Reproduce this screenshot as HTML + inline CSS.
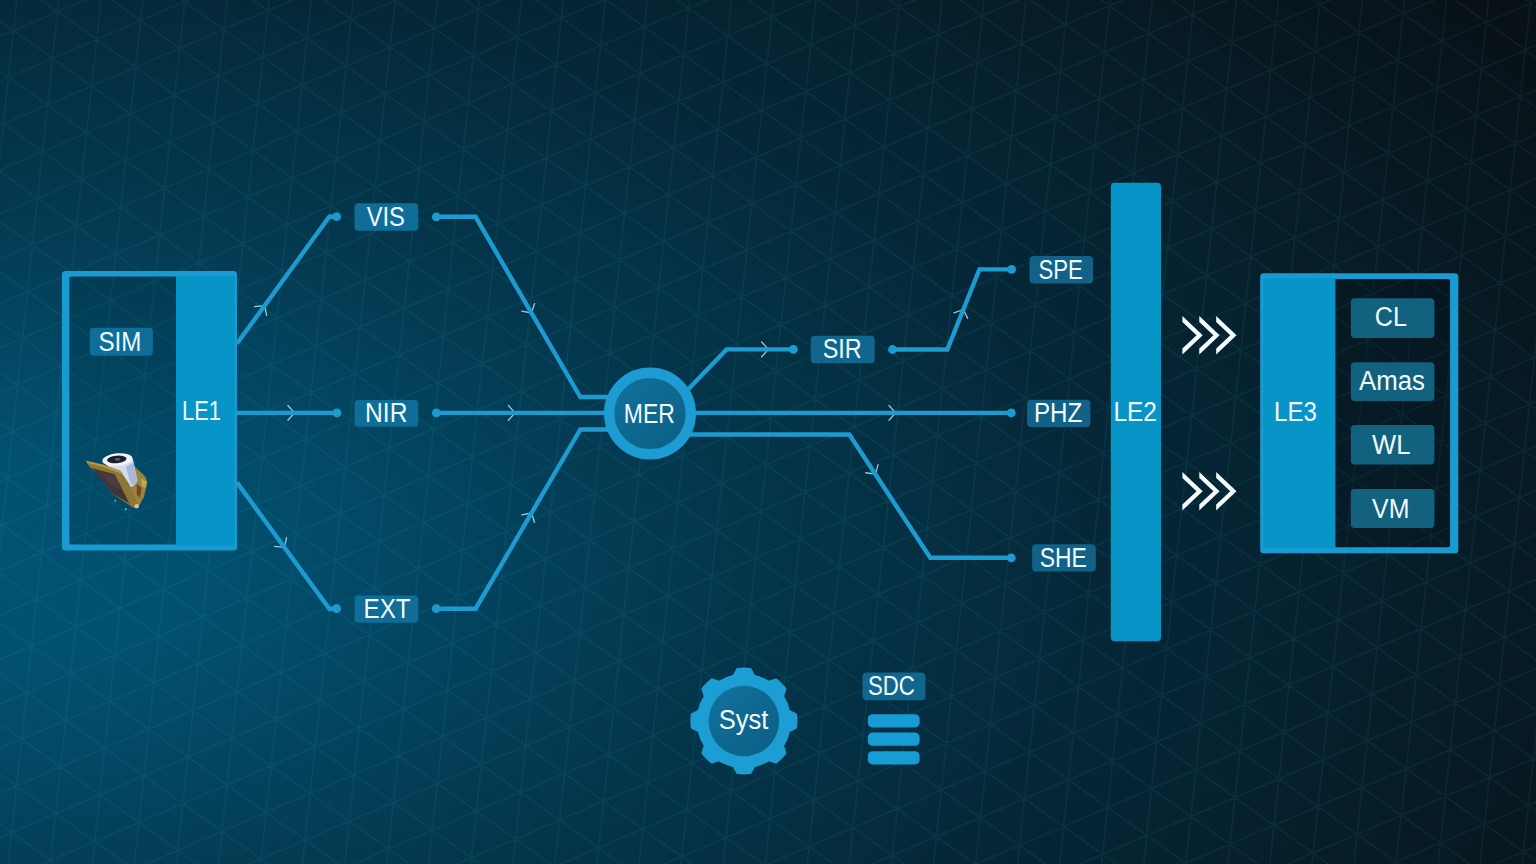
<!DOCTYPE html>
<html lang="en">
<head>
<meta charset="utf-8">
<title>Euclid SGS pipeline</title>
<style>
html,body{margin:0;padding:0;width:1536px;height:864px;overflow:hidden;background:#07222f;}
#stage{position:relative;width:1536px;height:864px;overflow:hidden;
background:
 radial-gradient(ellipse 1900px 1000px at 0px 560px,
  rgb(2,82,115) 0%, rgb(2,80,112) 10%, rgb(3,72,101) 20%, rgb(4,62,87) 30%, rgb(4,53,74) 40%,
  rgb(5,46,65) 50%, rgb(5,38,54) 60%, rgb(6,33,46) 70%, rgb(7,26,36) 80%, rgb(8,20,28) 90%, rgb(9,15,21) 100%);
}
svg{position:absolute;left:0;top:0;display:block}
text{font-family:"Liberation Sans",sans-serif;fill:#f1fbff}
</style>
</head>
<body>
<div id="stage">
<svg width="1536" height="864" viewBox="0 0 1536 864">

<defs><linearGradient id="disc" x1="0.15" y1="0.1" x2="0.85" y2="0.9"><stop offset="0" stop-color="#11709b"/><stop offset="0.5" stop-color="#0e6890"/><stop offset="1" stop-color="#0c6188"/></linearGradient></defs>
<path d="M279.8 -2455.2L-253.0 2516.4M323.9 -2474.1L-208.9 2497.5M368.0 -2493.0L-164.8 2478.6M412.1 -2511.9L-120.8 2459.7M456.2 -2530.8L-76.7 2440.8M500.2 -2549.7L-32.6 2421.9M544.3 -2568.6L11.5 2403.0M588.4 -2587.5L55.6 2384.1M632.5 -2606.4L99.6 2365.2M676.6 -2625.3L143.7 2346.3M720.6 -2644.2L187.8 2327.4M764.7 -2663.1L231.9 2308.5M808.8 -2682.0L276.0 2289.6M852.9 -2700.9L320.0 2270.7M897.0 -2719.8L364.1 2251.8M941.0 -2738.7L408.2 2232.9M985.1 -2757.6L452.3 2214.0M1029.2 -2776.5L496.4 2195.1M1073.3 -2795.4L540.4 2176.2M1117.4 -2814.3L584.5 2157.3M1161.4 -2833.2L628.6 2138.4M1205.5 -2852.1L672.7 2119.5M1249.6 -2871.0L716.8 2100.6M1293.7 -2889.9L760.8 2081.7M1337.8 -2908.8L804.9 2062.8M1381.8 -2927.7L849.0 2043.9M1425.9 -2946.6L893.1 2025.0M1470.0 -2965.5L937.2 2006.1M1514.1 -2984.4L981.2 1987.2M1558.2 -3003.3L1025.3 1968.3M1602.2 -3022.2L1069.4 1949.4M1646.3 -3041.1L1113.5 1930.5M1690.4 -3060.0L1157.6 1911.6M1734.5 -3078.9L1201.6 1892.7M1778.6 -3097.8L1245.7 1873.8M1822.6 -3116.7L1289.8 1854.9M1866.7 -3135.6L1333.9 1836.0M1910.8 -3154.5L1378.0 1817.1M1954.9 -3173.4L1422.0 1798.2M-2240.2 996.9L2355.2 -973.5M-2245.2 1043.5L2350.2 -926.8M-2250.2 1090.2L2345.2 -880.2M-2255.2 1136.8L2340.2 -833.5M-2260.2 1183.5L2335.2 -786.9M-2265.2 1230.1L2330.2 -740.2M-2270.2 1276.8L2325.2 -693.6M-2275.2 1323.4L2320.2 -646.9M-2280.2 1370.1L2315.2 -600.3M-2285.2 1416.7L2310.2 -553.6M-2290.2 1463.4L2305.2 -507.0M-2295.2 1510.0L2300.2 -460.3M-2300.2 1556.7L2295.2 -413.7M-2305.2 1603.3L2290.2 -367.0M-2310.2 1650.0L2285.2 -320.4M-2315.2 1696.6L2280.2 -273.7M-2320.2 1743.3L2275.2 -227.1M-2325.2 1789.9L2270.2 -180.4M-2330.2 1836.6L2265.2 -133.8M-2335.2 1883.2L2260.2 -87.1M-2340.2 1929.9L2255.2 -40.5M-2345.2 1976.5L2250.2 6.2M-2350.2 2023.2L2245.2 52.8M-2355.2 2069.8L2240.2 99.5M-2360.2 2116.5L2235.2 146.1M-2365.2 2163.1L2230.2 192.8M-2370.2 2209.8L2225.2 239.4M-2375.2 2256.4L2220.2 286.1M-2380.2 2303.1L2215.2 332.7M-2385.2 2349.7L2210.2 379.4M-2390.2 2396.4L2205.2 426.0M-2395.2 2443.0L2200.2 472.7M-2400.2 2489.7L2195.2 519.3M-2405.2 2536.3L2190.2 566.0M-2730.2 -1114.4L1346.5 1780.4M-2686.2 -1133.3L1390.6 1761.5M-2642.1 -1152.2L1434.7 1742.6M-2598.0 -1171.1L1478.8 1723.7M-2553.9 -1190.0L1522.8 1704.8M-2509.8 -1208.9L1566.9 1685.9M-2465.8 -1227.8L1611.0 1667.0M-2421.7 -1246.7L1655.1 1648.1M-2377.6 -1265.6L1699.2 1629.2M-2333.5 -1284.5L1743.2 1610.3M-2289.4 -1303.4L1787.3 1591.4M-2245.4 -1322.3L1831.4 1572.5M-2201.3 -1341.2L1875.5 1553.6M-2157.2 -1360.1L1919.6 1534.7M-2113.1 -1379.0L1963.6 1515.8M-2069.0 -1397.9L2007.7 1496.9M-2025.0 -1416.8L2051.8 1478.0M-1980.9 -1435.7L2095.9 1459.1M-1936.8 -1454.6L2140.0 1440.2M-1892.7 -1473.5L2184.0 1421.3M-1848.6 -1492.4L2228.1 1402.4M-1804.6 -1511.3L2272.2 1383.5M-1760.5 -1530.2L2316.3 1364.6M-1716.4 -1549.1L2360.4 1345.7M-1672.3 -1568.0L2404.4 1326.8M-1628.2 -1586.9L2448.5 1307.9M-1584.2 -1605.8L2492.6 1289.0M-1540.1 -1624.7L2536.7 1270.1M-1496.0 -1643.6L2580.8 1251.2M-1451.9 -1662.5L2624.8 1232.3M-1407.8 -1681.4L2668.9 1213.4M-1363.8 -1700.3L2713.0 1194.5M-1319.7 -1719.2L2757.1 1175.6M-1275.6 -1738.1L2801.2 1156.7M-1231.5 -1757.0L2845.2 1137.8M-1187.4 -1775.9L2889.3 1118.9M-1143.4 -1794.8L2933.4 1100.0M-1099.3 -1813.7L2977.5 1081.1M-1055.2 -1832.6L3021.6 1062.2" fill="none" stroke="#40fff0" stroke-opacity="0.058" stroke-width="1.8"/>

<g id="le1">
<rect x="69.3" y="276.4" width="106.7" height="268.1" fill="#001a2c" fill-opacity="0.10"/>
<path fill-rule="evenodd" fill="#179bd1" d="M65.5 271H233.5Q237 271 237 274.5V547Q237 550.5 233.5 550.5H65.5Q62 550.5 62 547V274.5Q62 271 65.5 271Z M71.3 276.4Q69.3 276.4 69.3 278.4V542.5Q69.3 544.5 71.3 544.5H176V276.4Z"/>
<rect x="176" y="275.6" width="58.6" height="270.4" fill="#0794c7"/>
</g>

<g id="le3">
<rect x="1335.2" y="278.9" width="115.4" height="268.3" fill="#04090e" fill-opacity="0.16"/>
<path fill-rule="evenodd" fill="#179bd1" d="M1263.7 273.3H1454.8Q1458.3 273.3 1458.3 276.8V549.8Q1458.3 553.3 1454.8 553.3H1263.7Q1260.2 553.3 1260.2 549.8V276.8Q1260.2 273.3 1263.7 273.3Z M1335.2 278.9V547.2H1447.6Q1450.1 547.2 1450.1 544.7V281.4Q1450.1 278.9 1447.6 278.9Z"/>
<rect x="1263.4" y="278.2" width="71.8" height="270" fill="#0794c7"/>
</g>

<rect x="1110.8" y="182.8" width="50.2" height="458.5" rx="4" fill="#0794c7"/>

<g fill="none" stroke="#a6dcf3" stroke-opacity="0.9" stroke-width="1.3" stroke-linecap="round" stroke-linejoin="round">
<path transform="translate(264.5 305.7) rotate(-53.9)" d="M-6.6 -7.4L0 0L-6.6 7.4"/>
<path transform="translate(294.5 412.9) rotate(0.0)" d="M-6.6 -7.4L0 0L-6.6 7.4"/>
<path transform="translate(284.5 547.4) rotate(53.8)" d="M-6.6 -7.4L0 0L-6.6 7.4"/>
<path transform="translate(531.5 313.0) rotate(59.8)" d="M-6.6 -7.4L0 0L-6.6 7.4"/>
<path transform="translate(515.0 412.9) rotate(0.0)" d="M-6.6 -7.4L0 0L-6.6 7.4"/>
<path transform="translate(531.5 513.0) rotate(-59.7)" d="M-6.6 -7.4L0 0L-6.6 7.4"/>
<path transform="translate(768.3 349.4) rotate(0.0)" d="M-6.6 -7.4L0 0L-6.6 7.4"/>
<path transform="translate(895.6 412.9) rotate(0.0)" d="M-6.6 -7.4L0 0L-6.6 7.4"/>
<path transform="translate(875.5 474.2) rotate(56.7)" d="M-6.6 -7.4L0 0L-6.6 7.4"/>
<path transform="translate(963.3 309.5) rotate(-68.2)" d="M-6.6 -7.4L0 0L-6.6 7.4"/>
</g>

<g fill="none" stroke="#1d9bd1" stroke-width="4.4" stroke-linejoin="miter" stroke-linecap="butt">
<path d="M237 343.5L329.3 216.7L336.6 216.7"/>
<path d="M236 412.9L337 412.9"/>
<path d="M237 482.5L329.3 608.7L336.6 608.7"/>
<path d="M436.3 216.8L475.6 216.8L580.3 397L615 397"/>
<path d="M436.4 412.9L610 412.9"/>
<path d="M436.3 608.7L475.6 608.7L580.3 429.5L615 429.5"/>
<path d="M686 391.5L726.6 349.4L793.4 349.4"/>
<path d="M690 412.9L1011.3 412.9"/>
<path d="M688 434.5L849.3 434.5L930.3 557.8L1011.3 557.8"/>
<path d="M892.5 349.5L947.3 349.5L979.4 269.4L1011.6 269.4"/>
</g>

<g fill="#1d9bd1">
<circle cx="336.6" cy="216.7" r="4.4"/>
<circle cx="436.3" cy="216.8" r="4.4"/>
<circle cx="337.0" cy="412.9" r="4.4"/>
<circle cx="436.4" cy="412.9" r="4.4"/>
<circle cx="336.6" cy="608.7" r="4.4"/>
<circle cx="436.3" cy="608.7" r="4.4"/>
<circle cx="793.4" cy="349.4" r="4.4"/>
<circle cx="892.5" cy="349.5" r="4.4"/>
<circle cx="1011.6" cy="269.4" r="4.4"/>
<circle cx="1011.3" cy="412.9" r="4.4"/>
<circle cx="1011.3" cy="557.8" r="4.4"/>
</g>

<circle cx="650" cy="413.5" r="40.8" fill="url(#disc)" stroke="#1c9cd2" stroke-width="10.4"/>

<path d="M733.99 676.29L737.56 669.39A52.00 52.00 0 0 1 750.24 669.39L753.81 676.29A45.80 45.80 0 0 1 768.51 682.37L775.91 680.02A52.00 52.00 0 0 1 784.88 688.99L782.53 696.39A45.80 45.80 0 0 1 788.61 711.09L795.51 714.66A52.00 52.00 0 0 1 795.51 727.34L788.61 730.91A45.80 45.80 0 0 1 782.53 745.61L784.88 753.01A52.00 52.00 0 0 1 775.91 761.98L768.51 759.63A45.80 45.80 0 0 1 753.81 765.71L750.24 772.61A52.00 52.00 0 0 1 737.56 772.61L733.99 765.71A45.80 45.80 0 0 1 719.29 759.63L711.89 761.98A52.00 52.00 0 0 1 702.92 753.01L705.27 745.61A45.80 45.80 0 0 1 699.19 730.91L692.29 727.34A52.00 52.00 0 0 1 692.29 714.66L699.19 711.09A45.80 45.80 0 0 1 705.27 696.39L702.92 688.99A52.00 52.00 0 0 1 711.89 680.02L719.29 682.37A45.80 45.80 0 0 1 733.99 676.29Z" fill="#1c9ed4" stroke="#1c9ed4" stroke-width="3" stroke-linejoin="round"/>
<circle cx="743.9" cy="721" r="35.3" fill="url(#disc)"/>

<rect x="867.8" y="714.2" width="51.8" height="13.2" rx="4.5" fill="#179cd4"/>
<rect x="867.8" y="732.6" width="51.8" height="13.2" rx="4.5" fill="#179cd4"/>
<rect x="867.8" y="751.2" width="51.8" height="13.2" rx="4.5" fill="#179cd4"/>


<g fill="#f4fbff">
<polygon points="1182.4,316.0 1202.7,335.2 1182.4,354.4 1182.4,348.5 1196.5,335.2 1182.4,321.9"/>
<polygon points="1199.3,316.0 1219.6,335.2 1199.3,354.4 1199.3,348.5 1213.4,335.2 1199.3,321.9"/>
<polygon points="1216.2,316.0 1236.5,335.2 1216.2,354.4 1216.2,348.5 1230.3,335.2 1216.2,321.9"/>
<polygon points="1182.4,472.0 1202.7,491.2 1182.4,510.4 1182.4,504.5 1196.5,491.2 1182.4,477.9"/>
<polygon points="1199.3,472.0 1219.6,491.2 1199.3,510.4 1199.3,504.5 1213.4,491.2 1199.3,477.9"/>
<polygon points="1216.2,472.0 1236.5,491.2 1216.2,510.4 1216.2,504.5 1230.3,491.2 1216.2,477.9"/>
</g>

<rect x="89.7" y="327.7" width="63.2" height="28.0" rx="4" fill="#0f6d98"/>
<rect x="354.5" y="203.3" width="63.8" height="27.4" rx="4" fill="#0f6d98"/>
<rect x="354.5" y="399.9" width="63.8" height="26.8" rx="4" fill="#0f6d98"/>
<rect x="354.5" y="595.6" width="63.8" height="27.2" rx="4" fill="#0f6d98"/>
<rect x="810.8" y="335.8" width="63.9" height="27.4" rx="4" fill="#11668e"/>
<rect x="1029.5" y="256.0" width="63.5" height="27.4" rx="4" fill="#126189"/>
<rect x="1027.0" y="399.7" width="63.4" height="27.3" rx="4" fill="#126189"/>
<rect x="1032.1" y="544.3" width="63.7" height="27.3" rx="4" fill="#126189"/>
<rect x="862.5" y="672.5" width="62.9" height="27.8" rx="4" fill="#11668e"/>
<rect x="1350.8" y="298.3" width="83.6" height="39.6" rx="4" fill="#12627f"/>
<rect x="1350.8" y="362.2" width="83.6" height="38.9" rx="4" fill="#12627f"/>
<rect x="1350.8" y="425.0" width="83.6" height="39.4" rx="4" fill="#12627f"/>
<rect x="1350.8" y="488.9" width="83.6" height="39.2" rx="4" fill="#12627f"/>


<g id="sat" transform="translate(80 448) scale(0.07639)">
<path d="M600 300L700 228L852 372L884 452L836 640L764 772L700 780L640 470Z" fill="#9c8340"/>
<path d="M742 470L806 520L786 650L742 610Z" fill="#6f4724"/>
<path d="M800 400L870 440L850 520L810 500Z" fill="#c4a654"/>
<path d="M320 190L600 500Q690 545 752 428L692 140Z" fill="#d3dcec"/>
<path d="M600 250L668 478Q720 500 752 428L700 190Z" fill="#a9b8d6"/>
<path d="M80 166L306 218L528 298L650 480L764 748L700 782L432 606L250 374L96 214Z" fill="#8d7733"/>
<path d="M80 166L306 218L528 298L560 345L300 250L96 196Z" fill="#b39848"/>
<path d="M150 262L452 342L648 726L432 602L206 328Z" fill="#3f3639"/>
<path d="M230 300L470 372L560 560L400 470Z" fill="#4d3c3f"/>
<ellipse cx="490" cy="152" rx="198" ry="82" transform="rotate(-5 490 152)" fill="#f3f6f9"/>
<ellipse cx="482" cy="150" rx="128" ry="50" transform="rotate(-5 482 150)" fill="#191f31"/>
<ellipse cx="492" cy="148" rx="38" ry="18" fill="#585c70"/>
<circle cx="742" cy="762" r="30" fill="#cdbcb0"/>
<circle cx="462" cy="690" r="13" fill="#6fa5c2"/>
<circle cx="600" cy="802" r="13" fill="#8fc0da"/>
</g>

<g>
<text x="98.5" y="351.1" font-size="27" textLength="42.9" lengthAdjust="spacingAndGlyphs">SIM</text>
<text x="366.7" y="225.8" font-size="27" textLength="38.2" lengthAdjust="spacingAndGlyphs">VIS</text>
<text x="365.1" y="422.2" font-size="27" textLength="42.3" lengthAdjust="spacingAndGlyphs">NIR</text>
<text x="363.5" y="618.0" font-size="27" textLength="47.1" lengthAdjust="spacingAndGlyphs">EXT</text>
<text x="822.7" y="358.3" font-size="27" textLength="39.0" lengthAdjust="spacingAndGlyphs">SIR</text>
<text x="1038.5" y="278.5" font-size="27" textLength="44.4" lengthAdjust="spacingAndGlyphs">SPE</text>
<text x="1034.0" y="422.4" font-size="27" textLength="48.3" lengthAdjust="spacingAndGlyphs">PHZ</text>
<text x="1039.8" y="567.0" font-size="27" textLength="47.1" lengthAdjust="spacingAndGlyphs">SHE</text>
<text x="868.0" y="694.7" font-size="27" textLength="46.9" lengthAdjust="spacingAndGlyphs">SDC</text>
<text x="1374.8" y="326.4" font-size="27" textLength="32.1" lengthAdjust="spacingAndGlyphs">CL</text>
<text x="1359.0" y="390.0" font-size="27" textLength="65.9" lengthAdjust="spacingAndGlyphs">Amas</text>
<text x="1372.1" y="453.7" font-size="27" textLength="38.4" lengthAdjust="spacingAndGlyphs">WL</text>
<text x="1372.1" y="517.6" font-size="27" textLength="37.3" lengthAdjust="spacingAndGlyphs">VM</text>
<text x="182.0" y="420.3" font-size="27" textLength="39.0" lengthAdjust="spacingAndGlyphs">LE1</text>
<text x="1113.4" y="420.5" font-size="27" textLength="43.4" lengthAdjust="spacingAndGlyphs">LE2</text>
<text x="1274.0" y="420.7" font-size="27" textLength="42.8" lengthAdjust="spacingAndGlyphs">LE3</text>
<text x="623.8" y="423.3" font-size="27" textLength="50.9" lengthAdjust="spacingAndGlyphs">MER</text>
<text x="718.7" y="729.4" font-size="27" textLength="49.7" lengthAdjust="spacingAndGlyphs">Syst</text>
</g>

</svg>
</div>
</body>
</html>
